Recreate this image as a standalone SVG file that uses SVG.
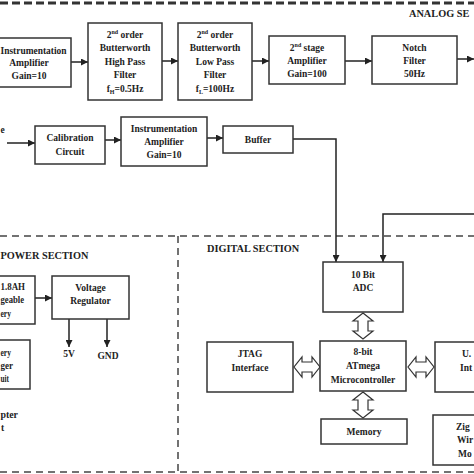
<svg xmlns="http://www.w3.org/2000/svg" width="474" height="474" viewBox="0 0 474 474">
<style>
.box{fill:#fff;stroke:#333;stroke-width:1.5}
.t{font-family:"Liberation Serif","Times New Roman",serif;font-weight:bold;font-size:9.5px;fill:#222;text-anchor:middle}
.s{font-family:"Liberation Serif","Times New Roman",serif;font-weight:bold;font-size:10.3px;fill:#222}
.st{text-anchor:start}
.ln{fill:none;stroke:#222;stroke-width:1.5}
.ar{marker-end:url(#ah)}
.dash{fill:none;stroke:#444;stroke-width:1.5;stroke-dasharray:7 5}
.dbl{fill:#fff;stroke:#333;stroke-width:1.2}
</style>
<defs>
<marker id="ah" markerUnits="userSpaceOnUse" markerWidth="8" markerHeight="7" refX="7" refY="3.5" orient="auto">
<path d="M0,0 L7,3.5 L0,7 Z" fill="#222"/>
</marker>
<path id="dbl" class="dbl" d="M0,0 L10,8 L5,8 L5,18 L10,18 L0,26 L-10,18 L-5,18 L-5,8 L-10,8 Z"/>
</defs>

<g id="sections">
<line x1="0" y1="3" x2="474" y2="3" stroke="#333" stroke-width="3" stroke-dasharray="8 4"/>
<line class="dash" x1="0" y1="236" x2="474" y2="236"/>
<line class="dash" x1="178" y1="236" x2="178" y2="472"/>
<line class="dash" x1="0" y1="472" x2="474" y2="472"/>
<text class="s" x="409" y="17">ANALOG SE</text>
<text class="s" x="0.5" y="259">POWER SECTION</text>
<text class="s" x="207" y="252">DIGITAL SECTION</text>
</g>

<g id="connectors">
<line class="ln ar" x1="71" y1="62" x2="88" y2="62"/>
<line class="ln ar" x1="162" y1="61" x2="178" y2="61"/>
<line class="ln ar" x1="252" y1="61" x2="269" y2="61"/>
<line class="ln ar" x1="345" y1="61" x2="372" y2="61"/>
<line class="ln ar" x1="457" y1="59" x2="474" y2="59"/>
<line class="ln ar" x1="7" y1="143" x2="35" y2="143"/>
<line class="ln ar" x1="105" y1="140" x2="121" y2="140"/>
<line class="ln ar" x1="207" y1="138" x2="223" y2="138"/>
<path class="ln ar" d="M293,139 H336 V262"/>
<path class="ln ar" d="M474,214 H383 V262"/>
<line class="ln ar" x1="35" y1="298" x2="52" y2="298"/>
<line class="ln ar" x1="69" y1="319" x2="69" y2="347"/>
<line class="ln ar" x1="107" y1="319" x2="107" y2="347"/>
<use href="#dbl" transform="translate(363,313)"/>
<use href="#dbl" transform="translate(363,392)"/>
<use href="#dbl" transform="translate(320,367) rotate(90)"/>
<use href="#dbl" transform="translate(434,367) rotate(90)"/>
</g>

<g id="inamp1">
<rect class="box" x="-13" y="38" width="84" height="49"/>
<text class="t st" x="0.5" y="53.5" textLength="66" lengthAdjust="spacingAndGlyphs">Instrumentation</text>
<text class="t" x="29" y="66">Amplifier</text>
<text class="t" x="29" y="78.5">Gain=10</text>
</g>
<g id="hpf">
<rect class="box" x="88" y="23" width="74" height="77"/>
<text class="t" x="125" y="37.5">2<tspan font-size="6" dy="-3.5">nd</tspan><tspan dy="3.5"> order</tspan></text>
<text class="t" x="125" y="51">Butterworth</text>
<text class="t" x="125" y="64.5">High Pass</text>
<text class="t" x="125" y="78">Filter</text>
<text class="t" x="125" y="91.5">f<tspan font-size="6" dy="2">H</tspan><tspan dy="-2">=0.5Hz</tspan></text>
</g>
<g id="lpf">
<rect class="box" x="178" y="23" width="74" height="77"/>
<text class="t" x="215" y="37.5">2<tspan font-size="6" dy="-3.5">nd</tspan><tspan dy="3.5"> order</tspan></text>
<text class="t" x="215" y="51">Butterworth</text>
<text class="t" x="215" y="64.5">Low Pass</text>
<text class="t" x="215" y="78">Filter</text>
<text class="t" x="215" y="91.5">f<tspan font-size="6" dy="2">L</tspan><tspan dy="-2">=100Hz</tspan></text>
</g>
<g id="stage2">
<rect class="box" x="269" y="36" width="76" height="48"/>
<text class="t" x="307" y="50.5">2<tspan font-size="6" dy="-3.5">nd</tspan><tspan dy="3.5"> stage</tspan></text>
<text class="t" x="307" y="63.5">Amplifier</text>
<text class="t" x="307" y="76.5">Gain=100</text>
</g>
<g id="notch">
<rect class="box" x="372" y="36" width="85" height="48"/>
<text class="t" x="414.5" y="50.5">Notch</text>
<text class="t" x="414.5" y="63.5">Filter</text>
<text class="t" x="414.5" y="76.5">50Hz</text>
</g>

<g id="input">
<text class="t st" x="0.5" y="133">e</text>
</g>
<g id="calib">
<rect class="box" x="35" y="126" width="70" height="38"/>
<text class="t" x="70" y="140.5">Calibration</text>
<text class="t" x="70" y="154.5">Circuit</text>
</g>
<g id="inamp2">
<rect class="box" x="121" y="117" width="86" height="49"/>
<text class="t" x="164" y="131.5">Instrumentation</text>
<text class="t" x="164" y="144.5">Amplifier</text>
<text class="t" x="164" y="157.5">Gain=10</text>
</g>
<g id="buffer">
<rect class="box" x="223" y="126" width="70" height="27"/>
<text class="t" x="258" y="143">Buffer</text>
</g>

<g id="battery">
<rect class="box" x="-20" y="276" width="55" height="48"/>
<text class="t st" x="0.5" y="289.5" textLength="24.5" lengthAdjust="spacingAndGlyphs">1.8AH</text>
<text class="t st" x="0.5" y="303" textLength="23.5" lengthAdjust="spacingAndGlyphs">geable</text>
<text class="t st" x="0.5" y="316.5" textLength="10.5" lengthAdjust="spacingAndGlyphs">ery</text>
</g>
<g id="charger">
<rect class="box" x="-20" y="340" width="50" height="49"/>
<text class="t st" x="0.5" y="355.5" textLength="10.5" lengthAdjust="spacingAndGlyphs">ery</text>
<text class="t st" x="0.5" y="368.5" textLength="12.5" lengthAdjust="spacingAndGlyphs">ger</text>
<text class="t st" x="0.5" y="381.5" textLength="8.5" lengthAdjust="spacingAndGlyphs">uit</text>
</g>
<g id="adapter">
<text class="t st" x="0.5" y="417.5" textLength="17.5" lengthAdjust="spacingAndGlyphs">pter</text>
<text class="t st" x="1" y="430.5">t</text>
</g>
<g id="regulator">
<rect class="box" x="52" y="276" width="77" height="43"/>
<text class="t" x="90.5" y="290.5">Voltage</text>
<text class="t" x="90.5" y="303.5">Regulator</text>
</g>
<g id="v5"><text class="t" x="69" y="357">5V</text></g>
<g id="gnd"><text class="t" x="108" y="358.5">GND</text></g>

<g id="adc">
<rect class="box" x="323" y="262" width="80" height="50"/>
<text class="t" x="363" y="277.5">10 Bit</text>
<text class="t" x="363" y="290.5">ADC</text>
</g>
<g id="mcu">
<rect class="box" x="320" y="341" width="86" height="50"/>
<text class="t" x="363" y="355">8-bit</text>
<text class="t" x="363" y="369">ATmega</text>
<text class="t" x="363" y="382.5">Microcontroller</text>
</g>
<g id="jtag">
<rect class="box" x="207" y="342" width="86" height="50"/>
<text class="t" x="250" y="357">JTAG</text>
<text class="t" x="250" y="370.5">Interface</text>
</g>
<g id="memory">
<rect class="box" x="321" y="419" width="86" height="25"/>
<text class="t" x="364" y="434.5">Memory</text>
</g>
<g id="uart">
<rect class="box" x="435" y="342" width="60" height="50"/>
<text class="t st" x="462" y="357">U.</text>
<text class="t st" x="460" y="370.5">Int</text>
</g>
<g id="zigbee">
<rect class="box" x="433" y="415" width="60" height="50"/>
<text class="t st" x="456" y="429.5">Zig</text>
<text class="t st" x="457" y="442.5">Wir</text>
<text class="t st" x="458" y="456.5">Mo</text>
</g>
</svg>
